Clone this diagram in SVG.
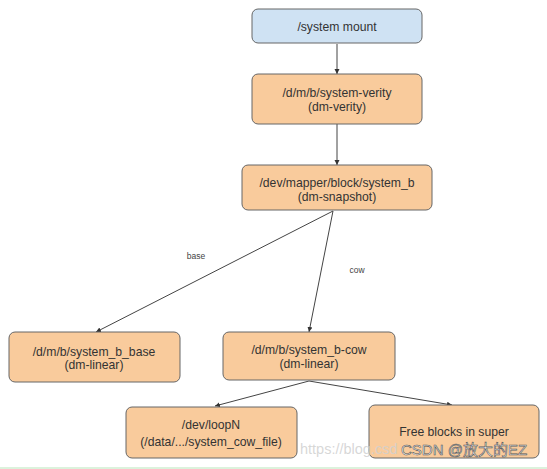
<svg xmlns="http://www.w3.org/2000/svg" width="547" height="469" viewBox="0 0 547 469">
<defs>
<marker id="ah" markerWidth="6" markerHeight="6" refX="5" refY="3" orient="auto" markerUnits="userSpaceOnUse">
<path d="M0,0.5 L5,3 L0,5.5 Z" fill="#333"/>
</marker>
<style>
.n{fill:#f9cb9c;stroke:#666;stroke-width:1}
.b{fill:#cfe2f3;stroke:#666;stroke-width:1}
.t{font-family:"Liberation Sans",Arial,sans-serif;font-size:12.2px;fill:#333;text-anchor:middle}
.l{font-family:"Liberation Sans",Arial,sans-serif;font-size:8.5px;fill:#444;text-anchor:middle}
.c{stroke:#444;stroke-width:1;fill:none;marker-end:url(#ah)}
</style>
</defs>
<rect width="547" height="469" fill="#fff"/>
<g id="connectors">
<line class="c" x1="337" y1="44" x2="337" y2="74"/>
<line class="c" x1="337" y1="124" x2="337" y2="165"/>
<line class="c" x1="333" y1="211" x2="96" y2="332"/>
<line class="c" x1="333" y1="211" x2="309" y2="332"/>
<line class="c" x1="309" y1="381" x2="215" y2="406"/>
<line class="c" x1="309" y1="381" x2="452" y2="405"/>
<text class="l" x="196" y="259">base</text>
<text class="l" x="357" y="273">cow</text>
</g>
<g id="mount">
<rect class="b" x="252" y="9" width="170" height="34" rx="6"/>
<text class="t" x="337" y="31">/system mount</text>
</g>
<g id="verity">
<rect class="n" x="252" y="74" width="170" height="50" rx="6"/>
<text class="t" x="337" y="97">/d/m/b/system-verity</text>
<text class="t" x="337" y="111">(dm-verity)</text>
</g>
<g id="snapshot">
<rect class="n" x="242" y="165" width="190" height="45" rx="6"/>
<text class="t" x="337" y="187">/dev/mapper/block/system_b</text>
<text class="t" x="337" y="201">(dm-snapshot)</text>
</g>
<g id="base">
<rect class="n" x="9" y="332" width="171" height="50" rx="6"/>
<text class="t" x="94" y="356">/d/m/b/system_b_base</text>
<text class="t" x="94" y="369">(dm-linear)</text>
</g>
<g id="cow">
<rect class="n" x="223" y="332" width="172" height="48" rx="6"/>
<text class="t" x="309" y="354">/d/m/b/system_b-cow</text>
<text class="t" x="309" y="368">(dm-linear)</text>
</g>
<g id="loop">
<rect class="n" x="126" y="407" width="171" height="51" rx="6"/>
<text class="t" x="211" y="429">/dev/loopN</text>
<text class="t" x="211" y="446">(/data/.../system_cow_file)</text>
</g>
<g id="free">
<rect class="n" x="369" y="405" width="170" height="53" rx="6"/>
<text class="t" x="454" y="436">Free blocks in super</text>
</g>
<g id="watermark">
<text x="300" y="454" font-family="Liberation Sans,Arial,sans-serif" font-size="14.5px" fill="#d0d0d0" fill-opacity="0.85">https://blog.csd</text>
<text x="401" y="455" font-family="'Liberation Sans','Noto Sans CJK SC',sans-serif" font-size="15px" fill="#fff" stroke="#555" stroke-width="0.6">CSDN @放大的EZ</text>
</g>
<rect x="0" y="467" width="547" height="2" fill="#dcf2dc"/>
</svg>
